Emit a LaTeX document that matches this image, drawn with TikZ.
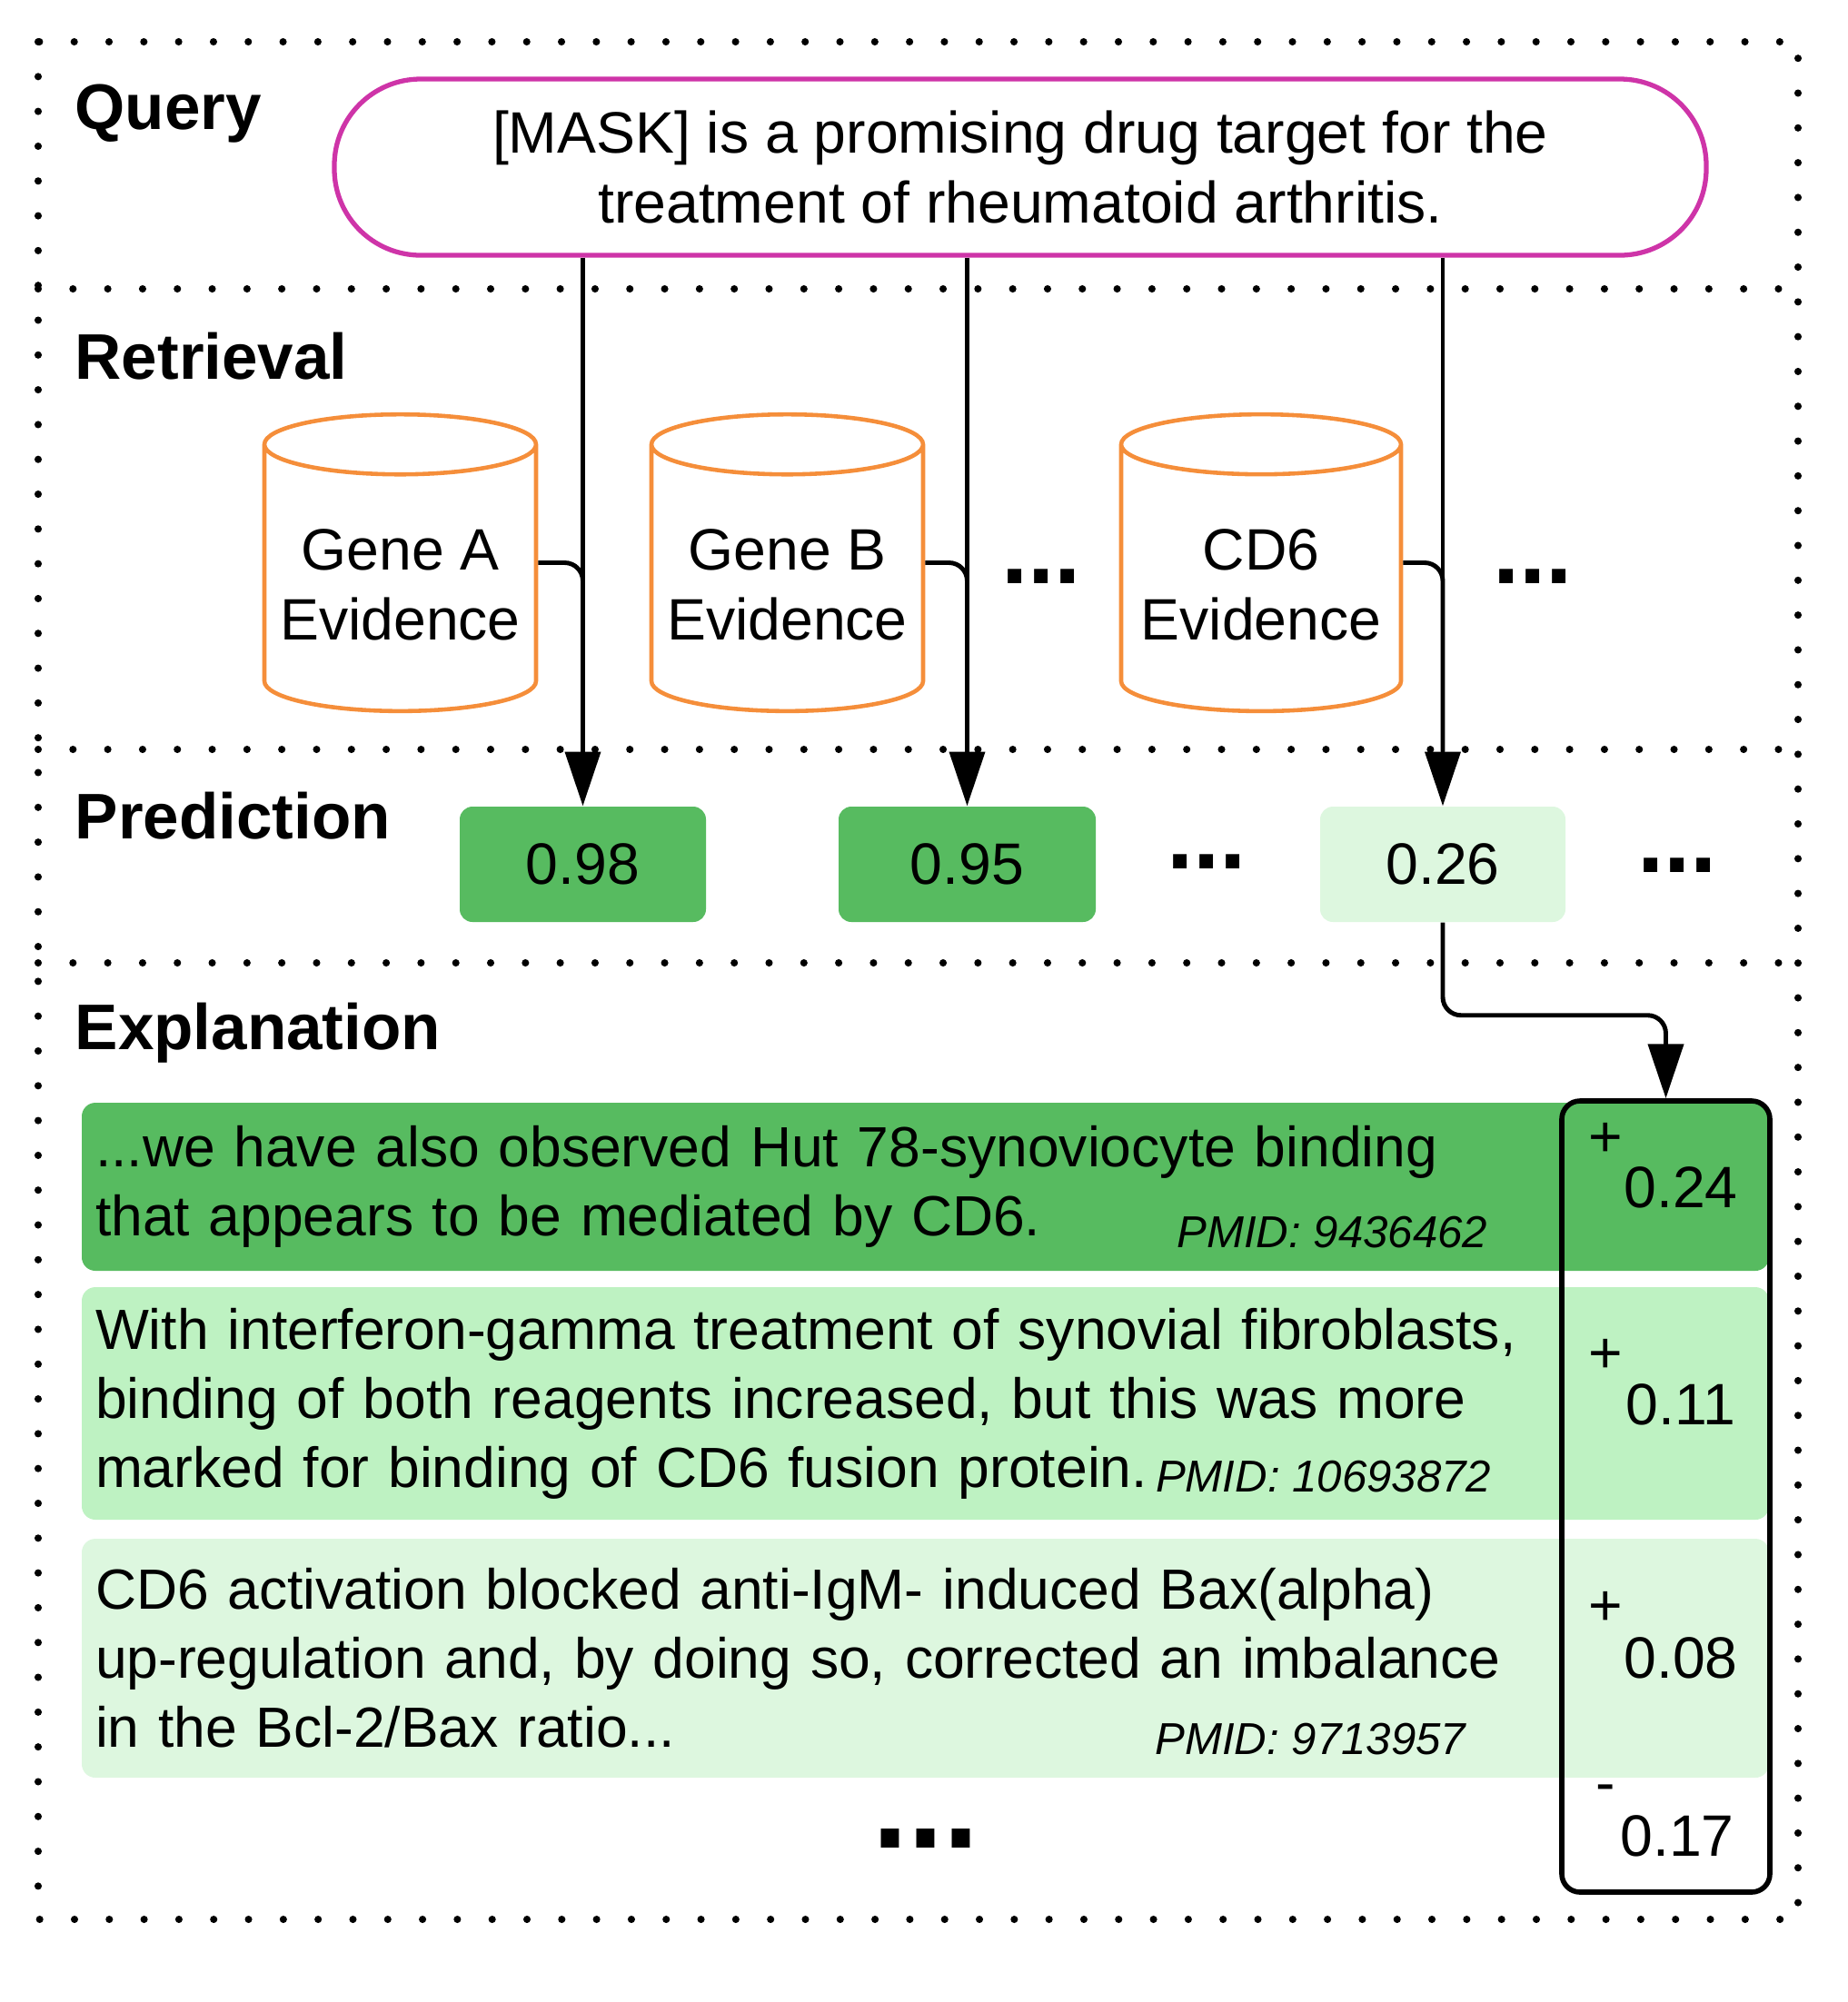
\documentclass[tikz,border=0pt]{standalone}
\usepackage{fontspec}
\setmainfont{Liberation Sans}
\usetikzlibrary{shapes.geometric,arrows.meta}

\definecolor{qmagenta}{RGB}{206,52,168}
\definecolor{dborange}{RGB}{245,142,58}
\definecolor{gdark}{RGB}{87,187,96}
\definecolor{gmid}{RGB}{190,242,194}
\definecolor{glight}{RGB}{221,247,223}

\begin{document}
\begin{tikzpicture}[
	txt/.style={font=\fontsize{18.3}{22}\selectfont},
	heading/.style={font=\fontsize{20.2}{24}\selectfont\bfseries, anchor=base west, inner sep=0pt},
	dotline/.style={line width=2.3pt, line cap=round, dash pattern=on 0pt off 10.9pt},
	evdb/.style={cylinder, shape border rotate=90, draw=dborange, line width=1.3pt, aspect=0.256, minimum width=2.99cm, minimum height=3.25cm, inner sep=1.29cm, anchor=shape center},
	dbtext/.style={txt, align=center, inner sep=0pt},
	score/.style={txt, rounded corners=0.14cm, minimum height=1.27cm, inner sep=0pt},
	row/.style={font=\fontsize{17.75}{21.6}\selectfont, rounded corners=0.15cm, text width=18.27cm, inner xsep=0.15cm, inner ysep=0pt, align=left},
	pmid/.style={font=\fontsize{14}{17}\selectfont\itshape, anchor=east, inner sep=0pt},
	sign/.style={txt, inner sep=0pt},
	more/.style={font=\fontsize{30}{34}\selectfont\bfseries, inner sep=0pt},
	link/.style={line width=1.4pt, -{Triangle[length=17pt,width=11pt]}},
	feed/.style={line width=1.4pt, rounded corners=0.2cm, shorten >=17pt},
	]
	
	\useasboundingbox (0,0) rectangle (20.34,-22.04);
	
	% THE DOTTED FRAME
	\draw[dotline] (0.42,-0.46) rectangle (19.79,-21.13);
	\draw[dotline] (0.42,-3.18) -- (19.79,-3.18);
	\draw[dotline] (0.42,-8.25) -- (19.79,-8.25);
	\draw[dotline] (0.42,-10.60) -- (19.79,-10.60);
	%
	% HEADINGS
	\node[heading] (hquery) at (0.82,-1.42) {Query};
	\node[heading] (hretr) at (0.82,-4.17) {Retrieval};
	\node[heading] (hpred) at (0.82,-9.23) {Prediction};
	\node[heading] (hexpl) at (0.82,-11.55) {Explanation};
	%
	% QUERY
	\node[txt, draw=qmagenta, line width=1.5pt, rounded corners=0.95cm, minimum width=15.1cm, minimum height=1.94cm, align=center] (query) at (11.23,-1.84)
	{[MASK] is a promising drug target for the\\treatment of rheumatoid arthritis.};
	%
	% RETRIEVAL
	\node[evdb] (ga) at (4.405,-6.195) {};
	\node[evdb] (gb) at (8.665,-6.195) {};
	\node[evdb, minimum width=3.08cm] (gcd) at (13.88,-6.195) {};
	\node[dbtext] (gatxt) at ([yshift=-0.24cm]ga.shape center) {Gene A\\Evidence};
	\node[dbtext] (gbtxt) at ([yshift=-0.24cm]gb.shape center) {Gene B\\Evidence};
	\node[dbtext] (gcdtxt) at ([yshift=-0.24cm]gcd.shape center) {CD6\\Evidence};
	\node[more] (dr1) at (11.46,-6.35) {...};
	\node[more] (dr2) at (16.87,-6.35) {...};
	%
	% PREDICTION
	\node[score, fill=gdark, minimum width=2.71cm] (p98) at (6.415,-9.515) {0.98};
	\node[score, fill=gdark, minimum width=2.83cm] (p95) at (10.645,-9.515) {0.95};
	\node[score, fill=glight, minimum width=2.70cm] (p26) at (15.88,-9.515) {0.26};
	\node[more] (dp1) at (13.28,-9.49) {...};
	\node[more] (dp2) at (18.46,-9.53) {...};
	%
	% ARROWS
	\draw[link] (query.south -| p98.north) -- (p98.north);
	\draw[link] (query.south -| p95.north) -- (p95.north);
	\draw[link] (query.south -| p26.north) -- (p26.north);
	\draw[feed] (ga.shape center -| ga.east) -| (p98.north);
	\draw[feed] (gb.shape center -| gb.east) -| (p95.north);
	\draw[feed] (gcd.shape center -| gcd.east) -| (p26.north);
	%
	% EXPLANATION
	\node[row, fill=gdark, minimum height=1.85cm] (ev1) at (10.185,-13.065)
	{...we have also observed Hut 78-synoviocyte binding\\that appears to be mediated by CD6.};
	\node[row, fill=gmid, minimum height=2.56cm] (ev2) at (10.185,-15.45)
	{With interferon-gamma treatment of synovial fibroblasts,\\binding of both reagents increased, but this was more\\marked for binding of CD6 fusion protein.};
	\node[row, fill=glight, minimum height=2.63cm] (ev3) at (10.185,-18.255)
	{CD6 activation blocked anti-IgM- induced Bax(alpha)\\up-regulation and, by doing so, corrected an imbalance\\in the Bcl-2/Bax ratio...};
	\node[pmid] (pm1) at (16.38,-13.565) {PMID: 9436462};
	\node[pmid] (pm2) at (16.42,-16.26) {PMID: 10693872};
	\node[pmid] (pm3) at (16.14,-19.15) {PMID: 9713957};
	\node[more, font=\fontsize{40}{44}\selectfont\bfseries] (de) at (10.19,-20.24) {...};
	%
	% SCORES
	\node[draw, line width=1.6pt, rounded corners=0.2cm, minimum width=2.29cm, minimum height=8.71cm] (sbox) at (18.335,-16.475) {};
	\node[sign] (s1) at (17.67,-12.55) {+};
	\node[sign] (v1) at (18.50,-13.07) {0.24};
	\node[sign] (s2) at (17.67,-14.93) {+};
	\node[sign] (v2) at (18.50,-15.46) {0.11};
	\node[sign] (s3) at (17.67,-17.71) {+};
	\node[sign] (v3) at (18.50,-18.25) {0.08};
	\node[sign] (s4) at (17.67,-19.75) {-};
	\node[sign] (v4) at (18.46,-20.21) {0.17};
	\draw[link, rounded corners=0.2cm] (p26.south) -- ++(0,-1.02) -| (sbox.north);
	
\end{tikzpicture}
\end{document}
